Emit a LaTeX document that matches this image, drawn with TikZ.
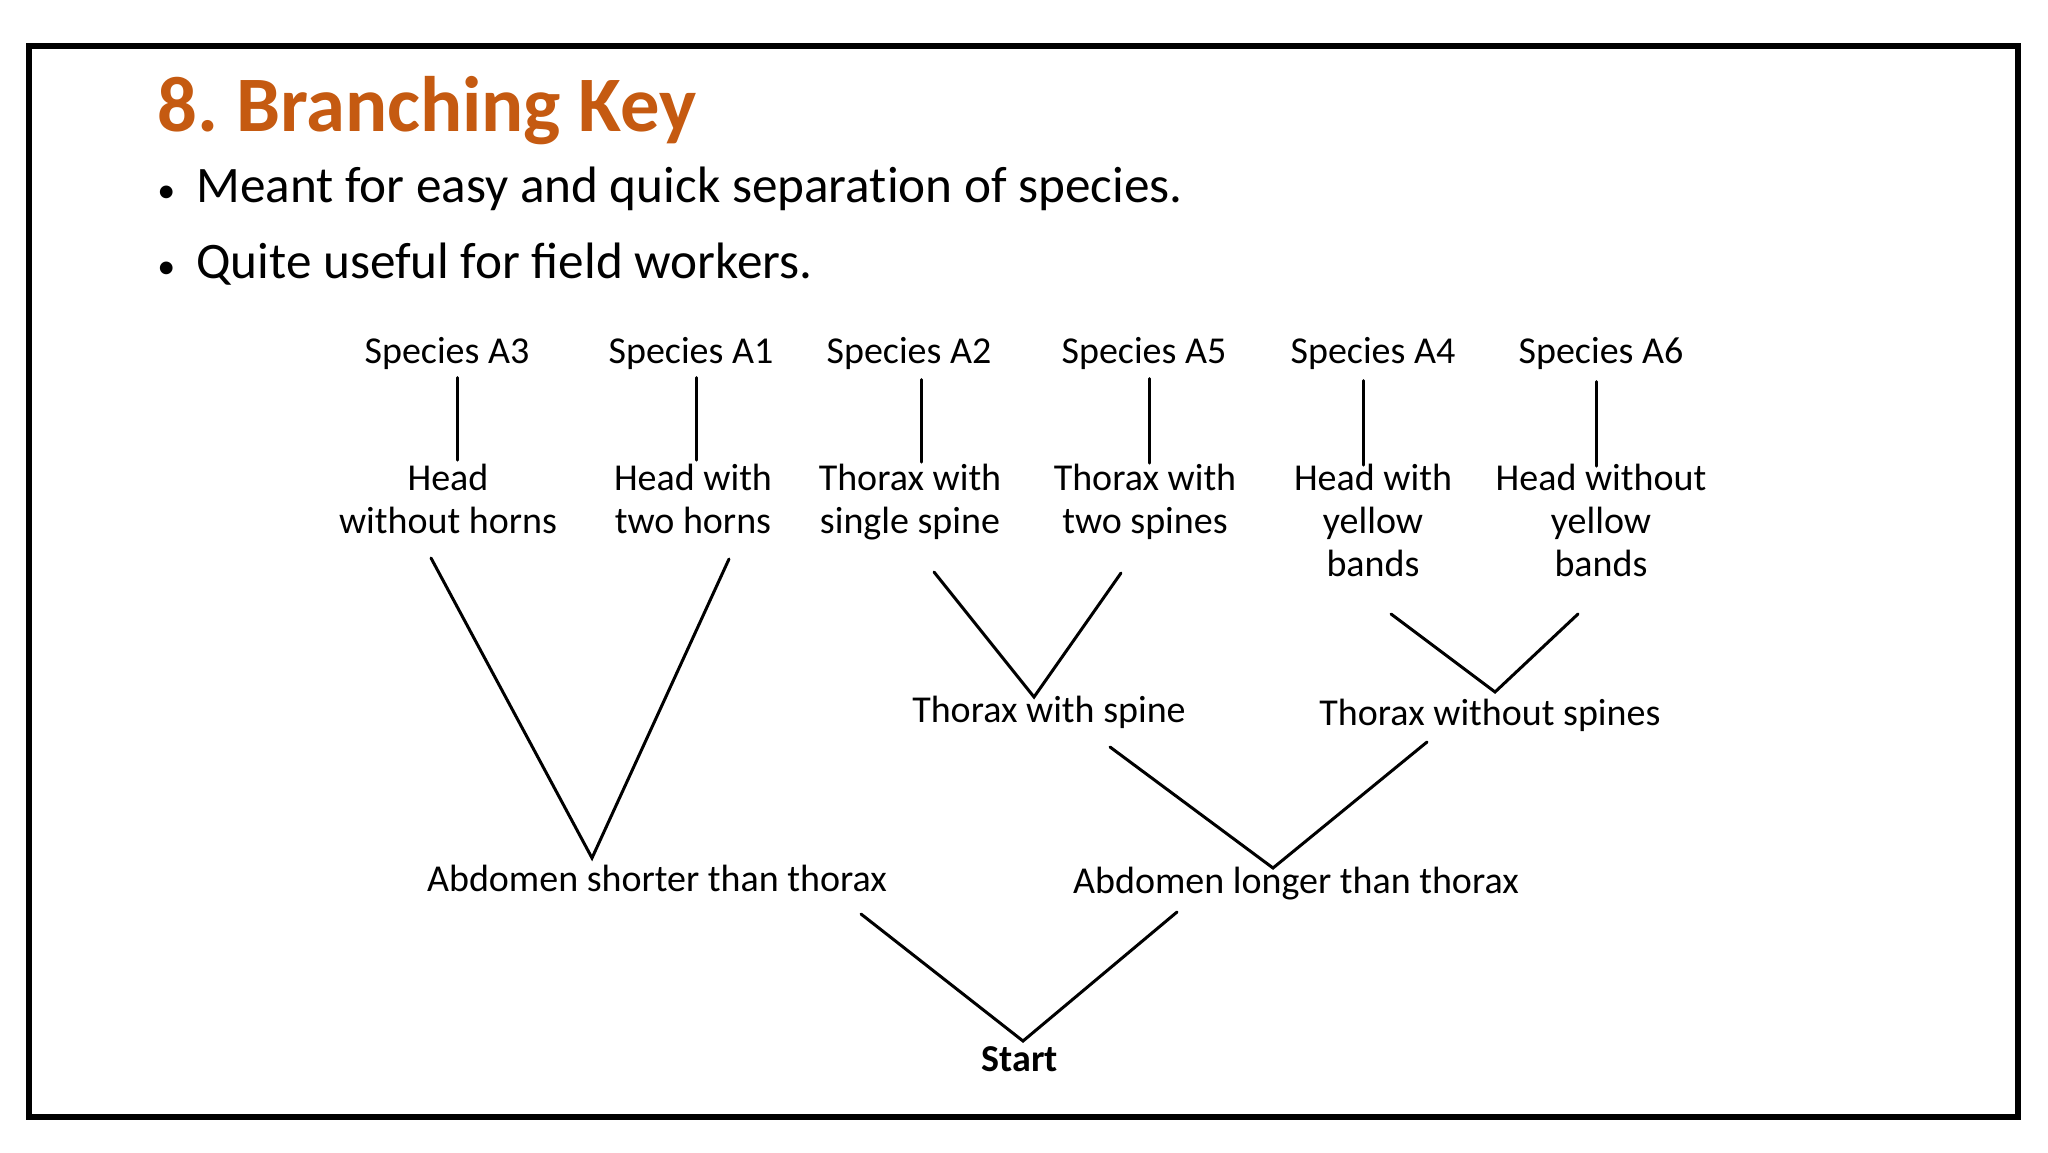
\documentclass[tikz,border=0pt]{standalone}
\usepackage{fontspec}
\setmainfont{Carlito}
\definecolor{titleorange}{RGB}{197,90,17}
\begin{document}
\frenchspacing
\begin{tikzpicture}[x=0.5pt,y=-0.5pt,
  lbl/.style={font=\fontsize{19}{21.5}\selectfont, inner sep=0pt, align=center, anchor=base},
  bul/.style={font=\fontsize{25.6}{30}\selectfont, inner sep=0pt, anchor=base west},
  conn/.style={line width=1.5pt, line cap=round, line join=miter}]
\useasboundingbox (0,0) rectangle (2048,1152);
\fill[white] (0,0) rectangle (2048,1152);
\draw[line width=2.6pt] (29,46) rectangle (2018,1117);
\node[anchor=base west, inner sep=0pt, text=titleorange, font=\bfseries\fontsize{39.3}{45}\selectfont] (title) at (157,131) {8. Branching Key};
\node[bul] (b1) at (157,202) {\makebox[19.5pt][l]{\fontsize{18}{20}\selectfont•}Meant for easy and quick separat\kern0pt ion of species.};
\node[bul] (b2) at (157,278) {\makebox[19.5pt][l]{\fontsize{18}{20}\selectfont•}Quite useful for field workers.};
% species
\node[lbl] (sA3) at (447,363) {Species A3};
\node[lbl] (sA1) at (691,363) {Species A1};
\node[lbl] (sA2) at (909,363) {Species A2};
\node[lbl] (sA5) at (1144,363) {Species A5};
\node[lbl] (sA4) at (1373,363) {Species A4};
\node[lbl] (sA6) at (1601,363) {Species A6};
% descriptions (base = last line)
\node[lbl] (dA3) at (448,533) {Head\\without horns};
\node[lbl] (dA1) at (693,533) {Head with\\two horns};
\node[lbl] (dA2) at (910,533) {Thorax with\\single spine};
\node[lbl] (dA5) at (1145,533) {Thorax with\\two spines};
\node[lbl] (dA4) at (1373,576) {Head with\\yellow\\bands};
\node[lbl] (dA6) at (1601,576) {Head without\\yellow\\bands};
% intermediate
\node[lbl] (tws) at (1049,722) {Thorax with spine};
\node[lbl] (tns) at (1490,725) {Thorax without spines};
\node[lbl] (abs) at (657,891) {Abdomen shorter than thorax};
\node[lbl] (abl) at (1296,893) {Abdomen longer than thorax};
\node[lbl, font=\bfseries\fontsize{19}{21.5}\selectfont] (start) at (1020,1071) {Start};
% vertical connectors
\draw[conn] (sA3.south -| 457,0) ++(0,8) -- (457,460);
\draw[conn] (sA1.south -| 696,0) ++(0,8) -- (696,460);
\draw[conn] (sA2.south -| 921,0) ++(0,10) -- (921,462);
\draw[conn] (sA5.south -| 1149,0) ++(0,9) -- (1149,463);
\draw[conn] (sA4.south -| 1363,0) ++(0,11) -- (1363,465);
\draw[conn] (sA6.south -| 1596,0) ++(0,12) -- (1596,466);
% V-shaped branches
\coordinate (a3) at (431,558);  \coordinate (a1) at (729,559);  \coordinate (v1) at (592,858);
\coordinate (a2) at (934,572);  \coordinate (a5) at (1121,573); \coordinate (v2) at (1034,697);
\coordinate (a4) at (1391,614); \coordinate (a6) at (1578,614); \coordinate (v3) at (1495,692);
\coordinate (ts) at (1110,747); \coordinate (tn) at (1427,742); \coordinate (v4) at (1273,868);
\coordinate (as) at (861,914);  \coordinate (al) at (1177,912); \coordinate (v5) at (1023,1041);
\draw[conn] (a3) -- (v1) -- (a1);
\draw[conn] (a2) -- (v2) -- (a5);
\draw[conn] (a4) -- (v3) -- (a6);
\draw[conn] (ts) -- (v4) -- (tn);
\draw[conn] (as) -- (v5) -- (al);
\end{tikzpicture}
\end{document}
